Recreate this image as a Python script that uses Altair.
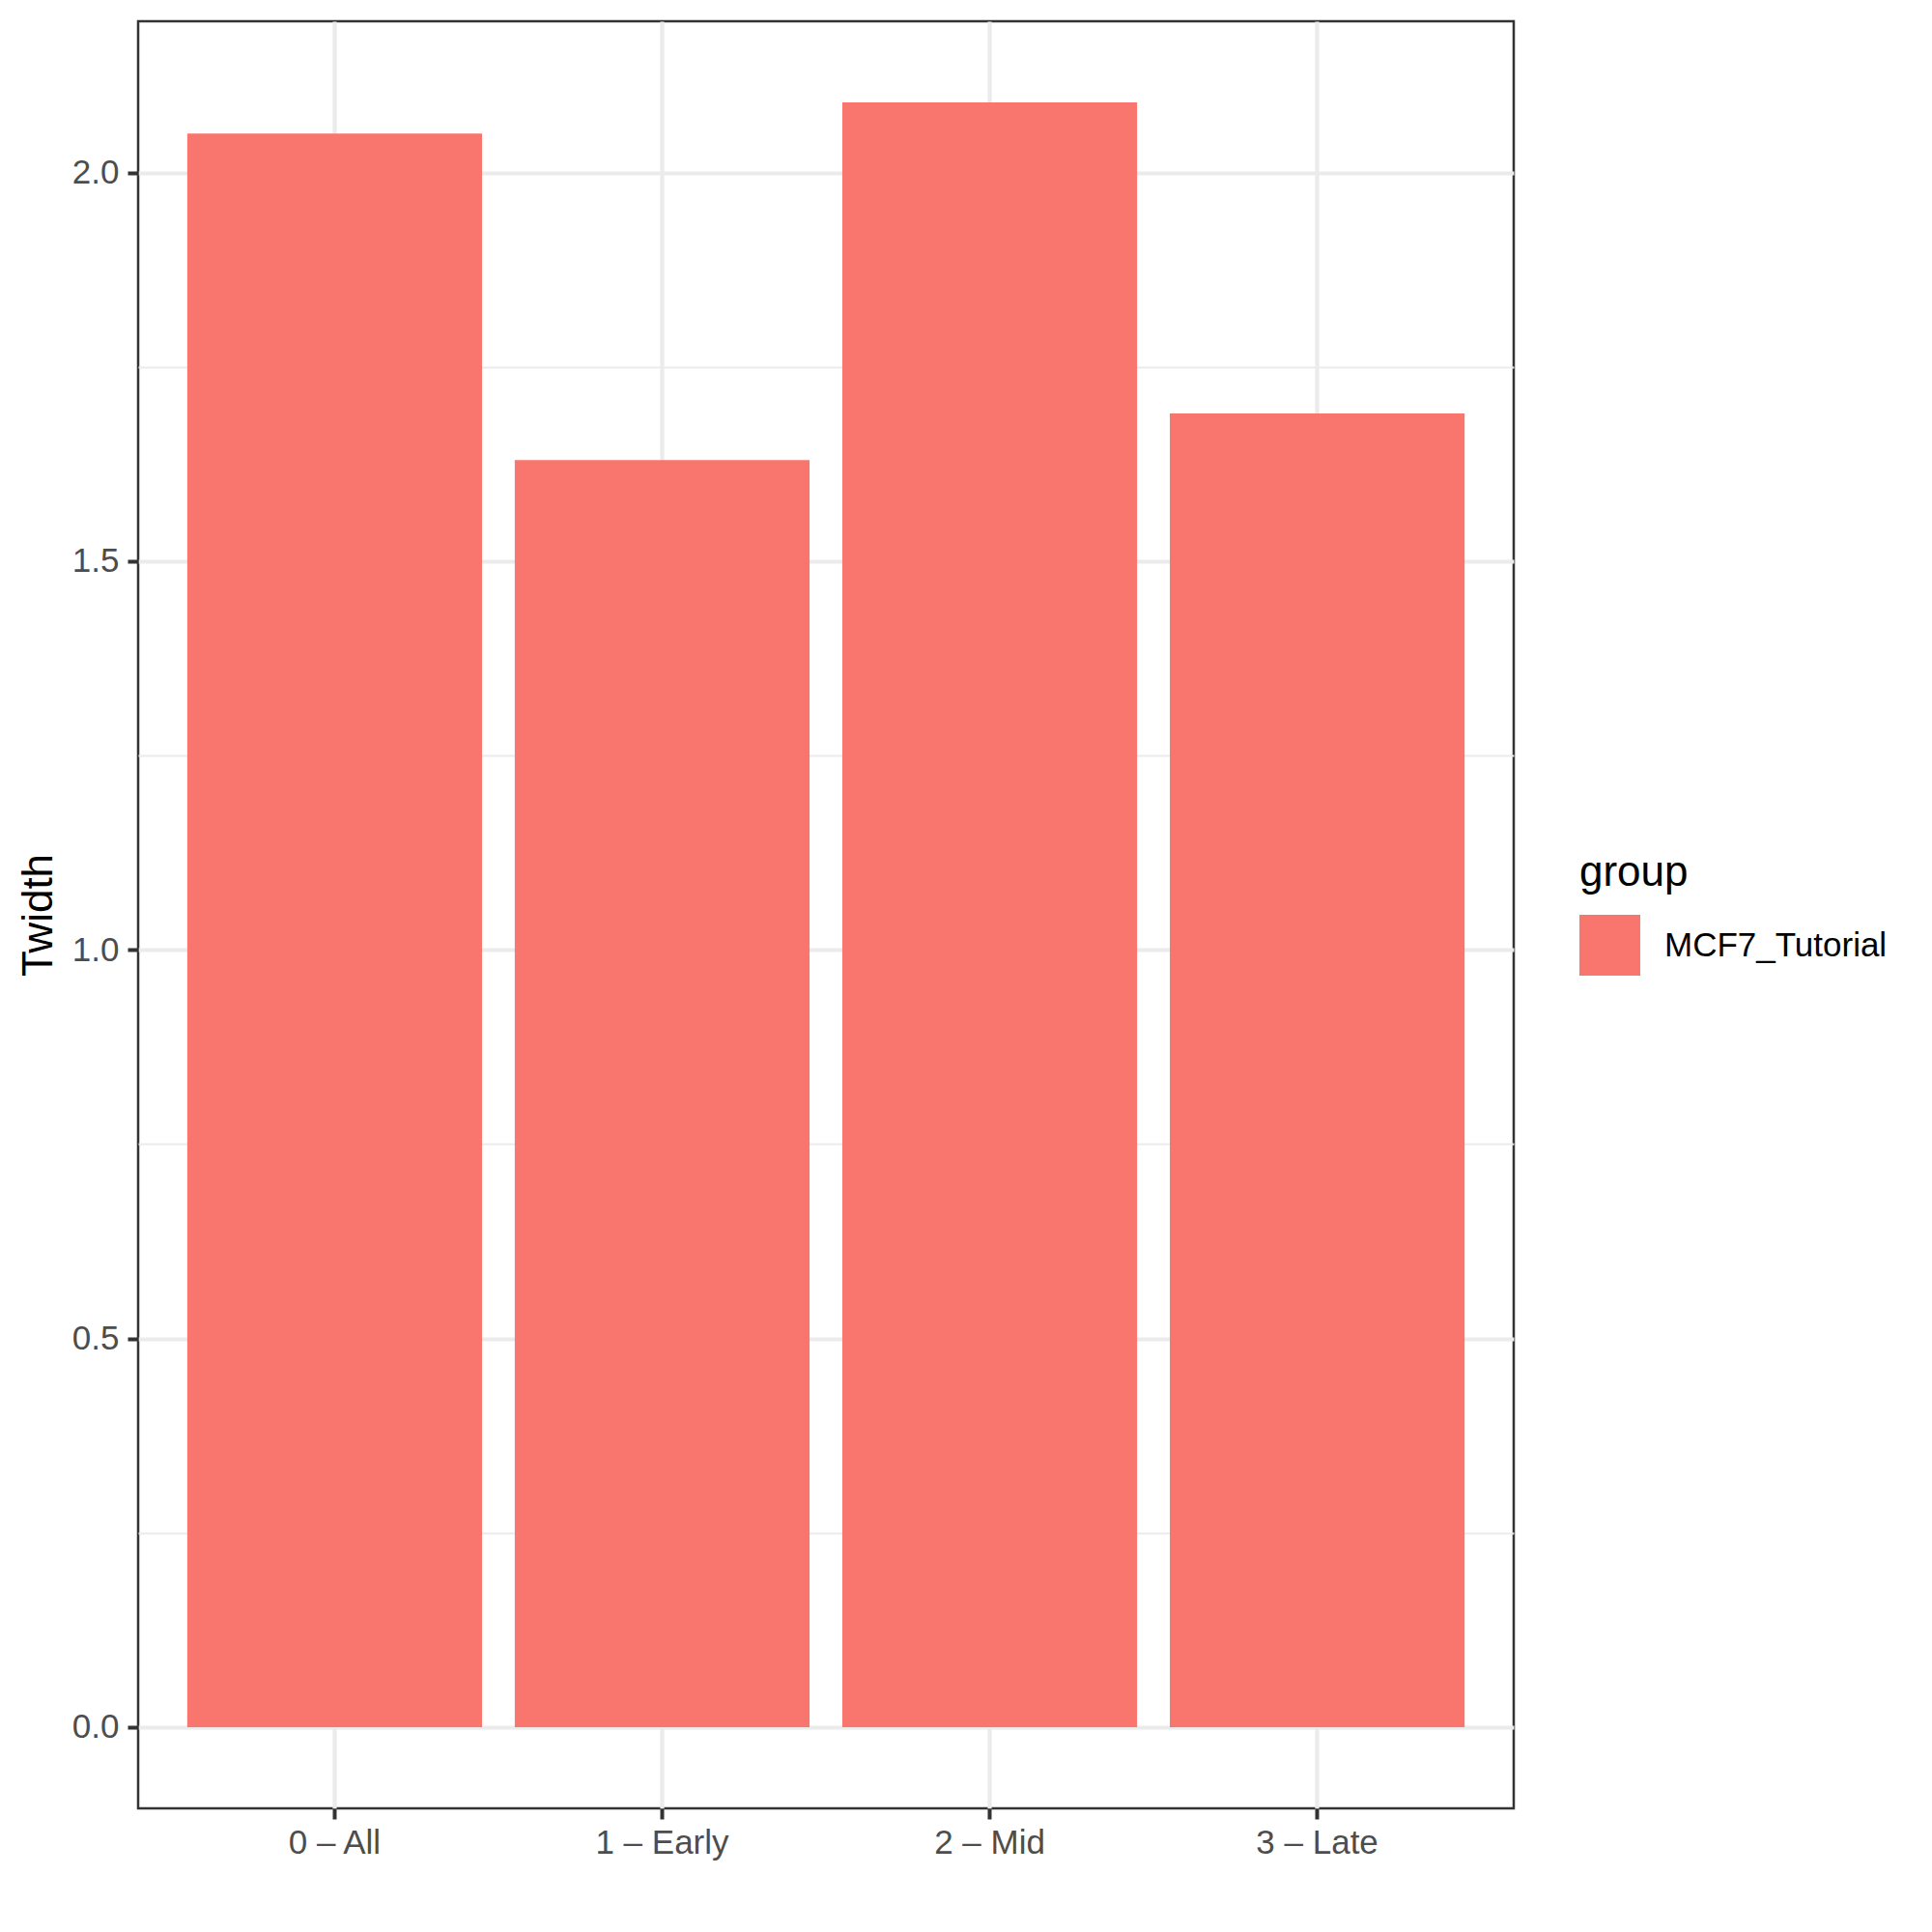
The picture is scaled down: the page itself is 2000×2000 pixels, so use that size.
import altair as alt
import pandas as pd

# ---- data ----
stages = ["0 – All", "1 – Early", "2 – Mid", "3 – Late"]
twidth = [2.05, 1.63, 2.09, 1.69]
groups = ["MCF7_Tutorial", "MCF7_Tutorial", "MCF7_Tutorial", "MCF7_Tutorial"]
major_ticks = [0.0, 0.5, 1.0, 1.5, 2.0]
minor_ticks = [0.25, 0.75, 1.25, 1.75]

df = pd.DataFrame({"stage": stages, "Twidth": twidth, "group": groups})
minor_df = pd.DataFrame({"minor": minor_ticks})

ymax = max(twidth)
ydomain = [-0.05 * ymax, ymax * 1.05]

FONT = "Liberation Sans"
GRID = "#EBEBEB"
DARK = "#333333"
LABEL = "#4D4D4D"

yscale = alt.Scale(domain=ydomain, nice=False, zero=False)

bars = alt.Chart(df).mark_bar(color="#F8766D").encode(
    x=alt.X(
        "stage:N",
        sort=stages,
        scale=alt.Scale(domain=stages, paddingInner=0.1, paddingOuter=0.15),
        axis=alt.Axis(
            title=None, labelAngle=0, grid=True, gridColor=GRID, gridWidth=4.2,
            domain=False, tickColor=DARK, tickWidth=4, tickSize=11,
            labelFont=FONT, labelFontSize=35, labelColor=LABEL, labelPadding=7,
        ),
    ),
    y=alt.Y(
        "Twidth:Q",
        scale=yscale,
        axis=alt.Axis(
            values=major_ticks, format=".1f", grid=True, gridColor=GRID, gridWidth=4.2,
            domain=False, tickColor=DARK, tickWidth=4, tickSize=11,
            labelFont=FONT, labelFontSize=35, labelColor=LABEL, labelPadding=9,
            title="Twidth", titleFont=FONT, titleFontSize=44, titleFontWeight="normal",
            titleColor="black", titleAngle=-90, titleX=-90, titleY=925,
            titleAlign="center", titleBaseline="alphabetic",
        ),
    ),
    color=alt.Color(
        "group:N",
        scale=alt.Scale(range=["#F8766D"]),
        legend=alt.Legend(
            title="group", orient="none", legendX=1492, legendY=860,
            symbolType="square", symbolSize=3969, symbolStrokeWidth=0,
            symbolOpacity=1, symbolFillColor="#F8766D",
            titleFont=FONT, titleFontSize=44, titleFontWeight="normal",
            titleColor="black", titlePadding=21,
            labelFont=FONT, labelFontSize=35, labelColor="black", labelOffset=25,
            labelLimit=0, padding=0,
        ),
    ),
)

minor = alt.Chart(minor_df).mark_rule(opacity=0).encode(
    y=alt.Y(
        "minor:Q",
        scale=yscale,
        axis=alt.Axis(
            values=minor_ticks, grid=True, gridColor=GRID, gridWidth=2.1,
            labels=False, ticks=False, domain=False, title=None, orient="right",
        ),
    )
)

chart = (
    alt.layer(minor, bars)
    .resolve_axis(y="independent")
    .properties(
        width=1424,
        height=1850,
        autosize=alt.AutoSizeParams(type="none"),
        padding={"left": 135, "top": 14, "right": 400, "bottom": 100},
        background="white",
    )
    .configure_view(stroke=DARK, strokeWidth=2.5)
)

chart.save("out.html", embed_options={"renderer": "svg", "actions": False})
